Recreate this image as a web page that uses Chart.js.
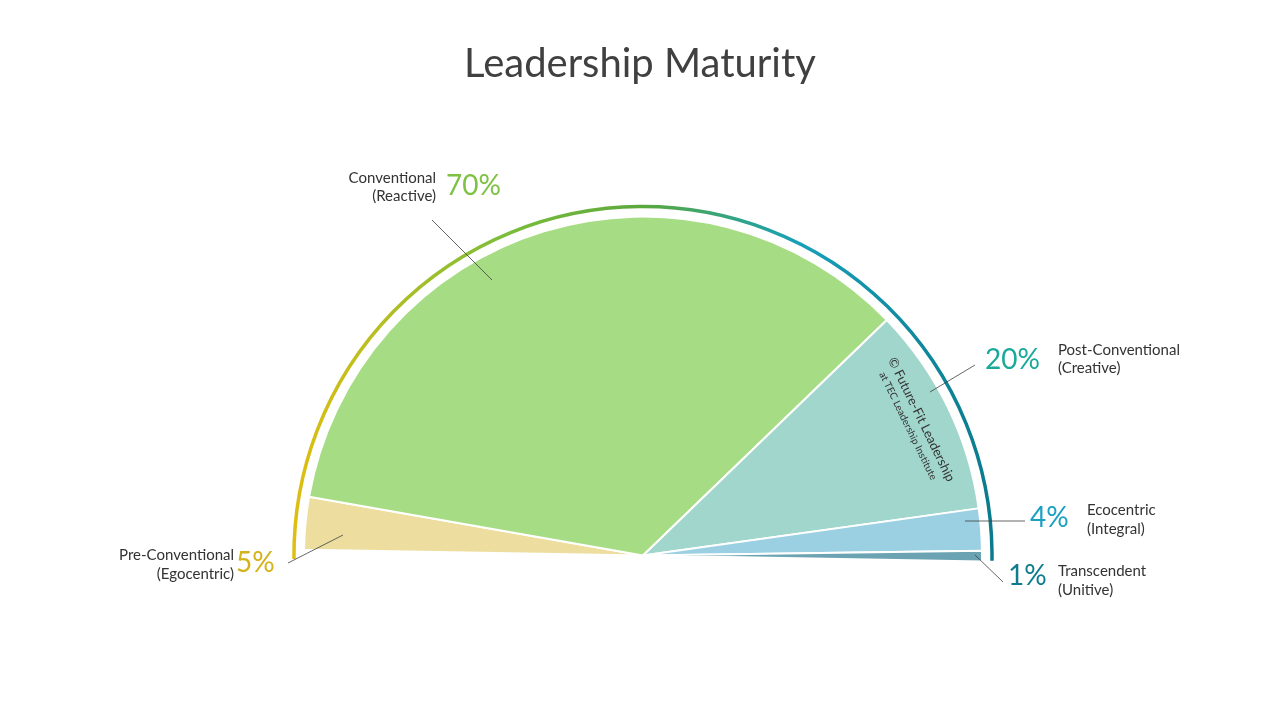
<!DOCTYPE html>
<html><head><meta charset="utf-8">
<script src="https://cdn.jsdelivr.net/npm/chart.js@4"></script>
<style>html,body{margin:0;padding:0;background:#fff}canvas{display:block}</style>
</head><body>
<canvas id="c" width="1280" height="720"></canvas>
<script>
const categories = ["Pre-Conventional (Egocentric)","Conventional (Reactive)","Post-Conventional (Creative)","Ecocentric (Integral)","Transcendent (Unitive)"];
const values = [5, 70, 20, 4, 1];
const pctLabels = ["5%","70%","20%","4%","1%"];
const colors = ["#EDDE9F","#A6DD84","#A1D6CC","#9AD0E2","#6BA3B2"];
const FONT = "Lato, 'Open Sans', sans-serif";

const deco = {
  id:'deco',
  afterDraw(chart){
    const ctx = chart.ctx;
    const a = chart.getDatasetMeta(0).data[0];
    const cx=a.x, cy=a.y, r=a.outerRadius;
    // gradient arc
    const g = ctx.createLinearGradient(cx-r-14,0,cx+r+14,0);
    g.addColorStop(0,'#E0BE10'); g.addColorStop(0.3,'#7DBE3A'); g.addColorStop(0.5,'#5AA83C');
    g.addColorStop(0.72,'#17A0B8'); g.addColorStop(1,'#0A7A8C');
    ctx.save();
    ctx.strokeStyle=g; ctx.lineWidth=3.5;
    ctx.beginPath(); ctx.arc(cx,cy,r+10,Math.PI-0.01,2*Math.PI+0.015); ctx.stroke();
    // title
    ctx.fillStyle='#404040'; ctx.textAlign='center'; ctx.textBaseline='middle';
    ctx.font="40px "+FONT; ctx.fillText("Leadership Maturity",640,64);
    // leader lines
    ctx.strokeStyle='#404040'; ctx.lineWidth=0.8;
    [[432,220,492,280],[975,365,930,392],[965,521,1025,521],[975,555,1003,582],[288,563,343,535]].forEach(l=>{
      ctx.beginPath(); ctx.moveTo(l[0],l[1]); ctx.lineTo(l[2],l[3]); ctx.stroke();});
    const t=(s,x,y,al,size,col)=>{ctx.textAlign=al;ctx.font=size+"px "+FONT;ctx.fillStyle=col;ctx.fillText(s,x,y);};
    const dk='#333333';
    t("Conventional",436,178,'right',15,dk); t("(Reactive)",436,196,'right',15,dk);
    t(pctLabels[1],446,186,'left',28,'#7DC242');
    t(pctLabels[2],1040,360,'right',28,'#1AA99A');
    t("Post-Conventional",1058,350,'left',15,dk); t("(Creative)",1058,368,'left',15,dk);
    t(pctLabels[3],1030,518,'left',28,'#1BA0C0');
    t("Ecocentric",1087,510,'left',15,dk); t("(Integral)",1087,529,'left',15,dk);
    t(pctLabels[4],1008,576,'left',28,'#0E7C8E');
    t("Transcendent",1058,571,'left',15,dk); t("(Unitive)",1058,590,'left',15,dk);
    t(pctLabels[0],236,563,'left',28,'#D4B21A');
    t("Pre-Conventional",234,555,'right',15,dk); t("(Egocentric)",234,574,'right',15,dk);
    // watermark
    ctx.translate(916,422); ctx.rotate(64*Math.PI/180);
    t("© Future-Fit Leadership",0,-6,'center',13,'#333');
    t("at TEC Leadership Institute",0,9,'center',10,'#333');
    ctx.restore();
  }
};

new Chart(document.getElementById('c'),{
  type:'doughnut',
  data:{labels:categories,datasets:[{data:values,backgroundColor:colors,borderColor:'#fff',borderWidth:2}]},
  options:{
    responsive:false, animation:false, cutout:0, rotation:-89, circumference:180,
    layout:{padding:{left:303,right:297,top:213,bottom:155}},
    plugins:{legend:{display:false},tooltip:{enabled:false},title:{display:false}}
  },
  plugins:[deco]
});
</script>
</body></html>
